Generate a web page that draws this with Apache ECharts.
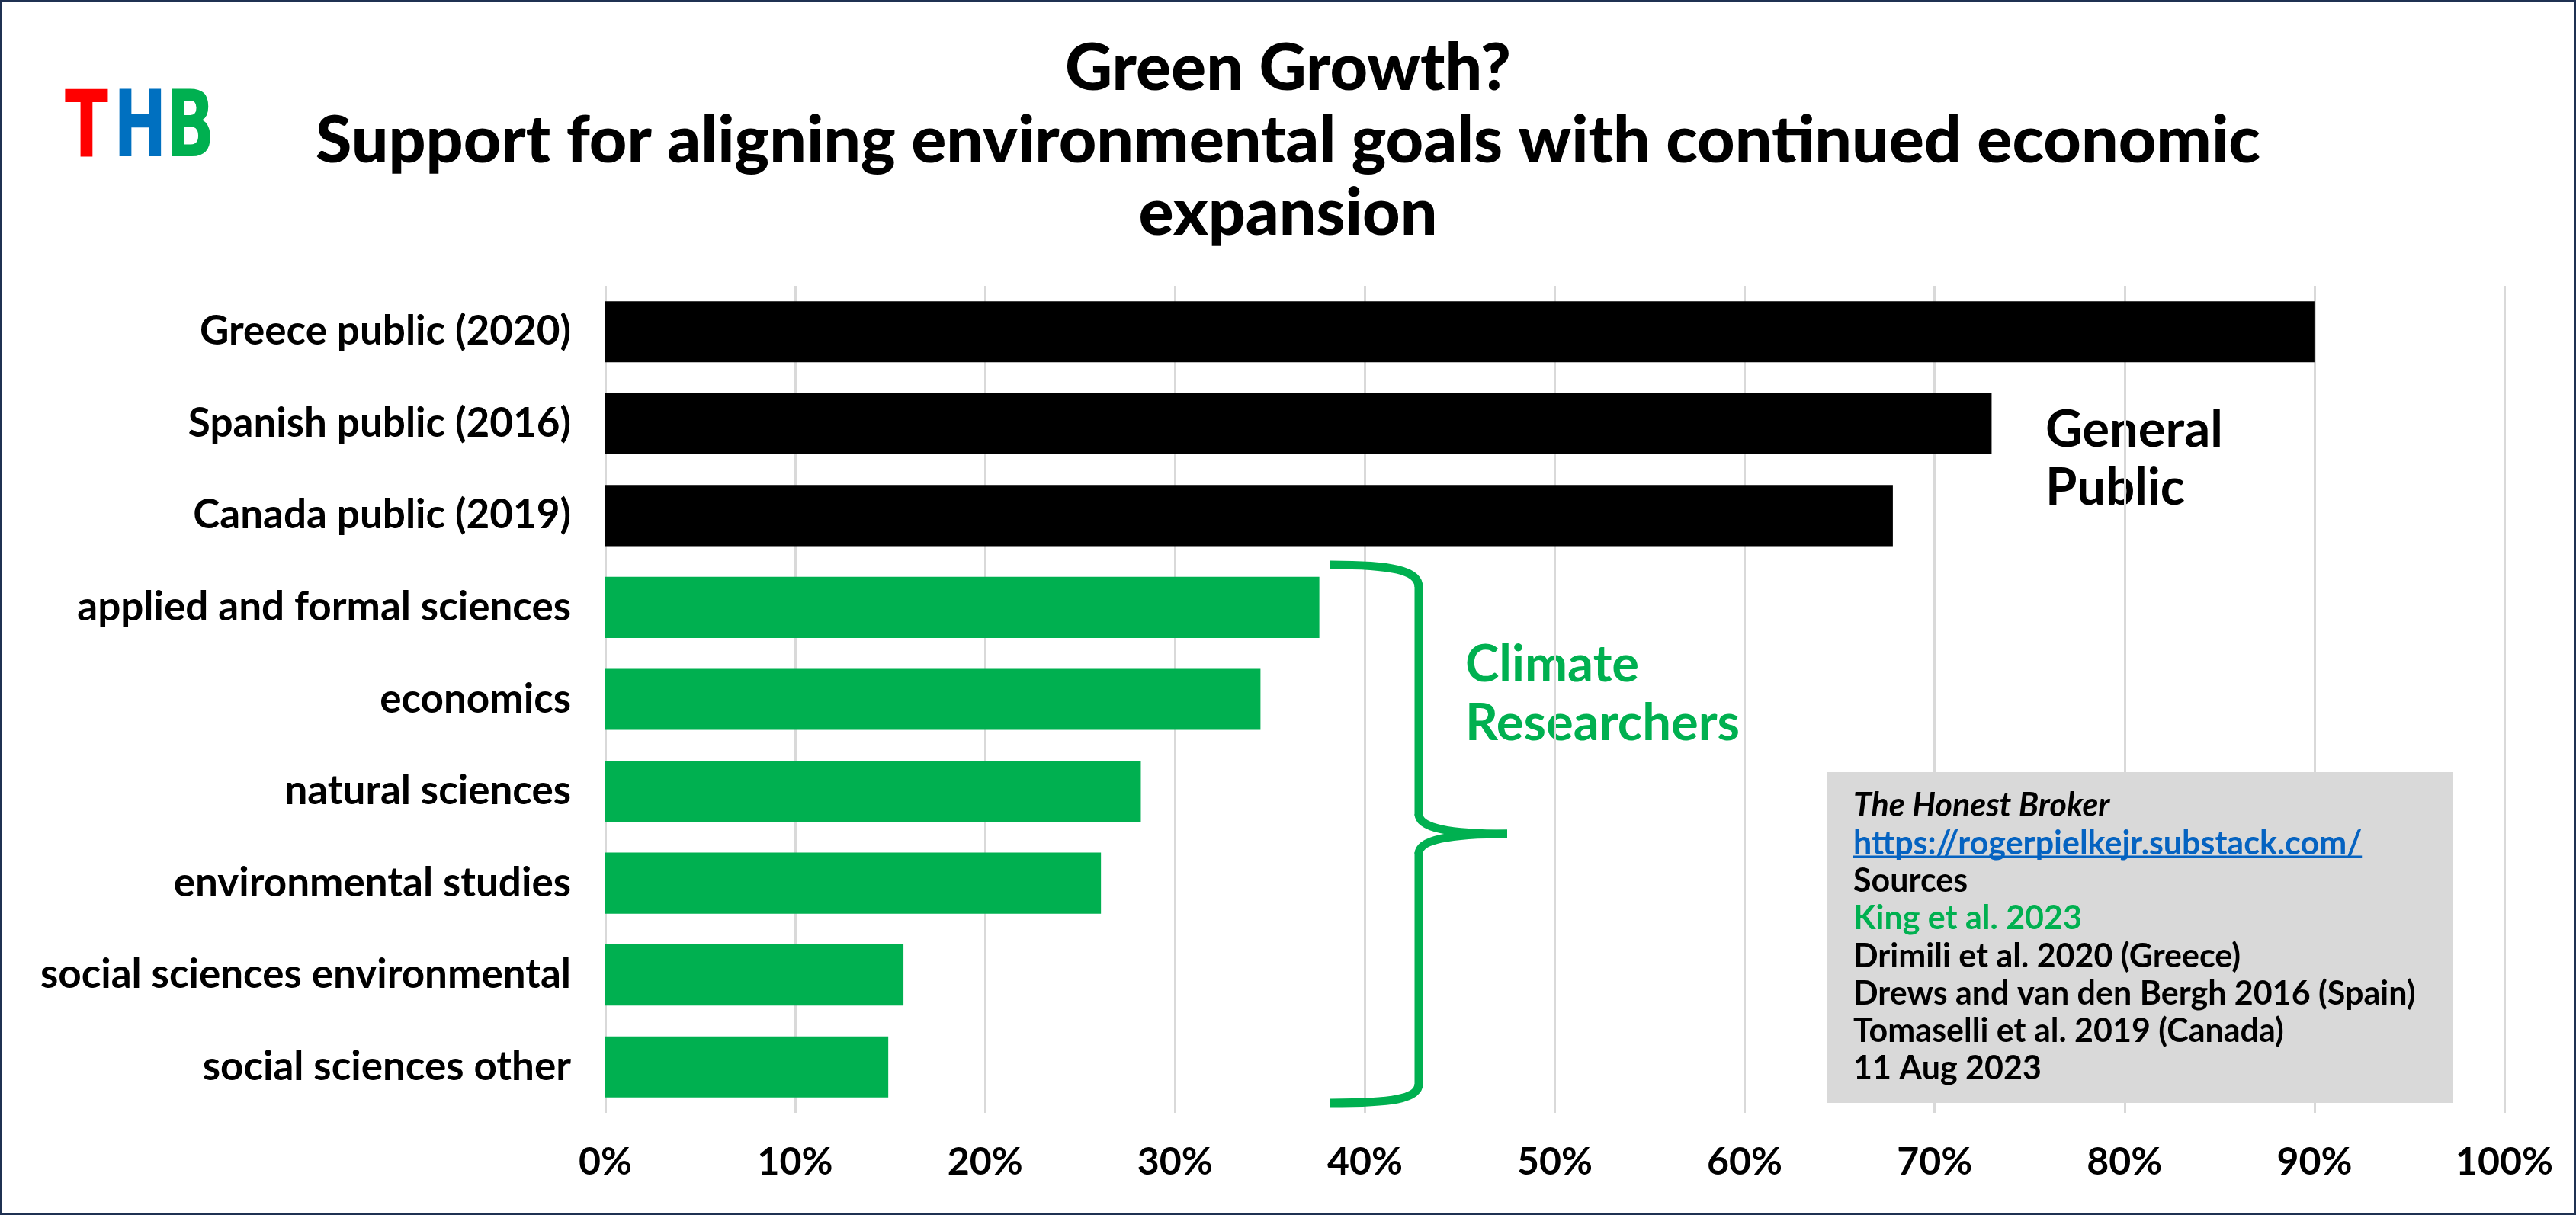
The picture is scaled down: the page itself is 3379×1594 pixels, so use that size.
<!DOCTYPE html>
<html>
<head>
<meta charset="utf-8">
<title>Green Growth?</title>
<script src="https://cdn.jsdelivr.net/npm/echarts@6/dist/echarts.min.js"></script>
<style>
  html, body { margin: 0; padding: 0; background: #fff; }
  #chart { width: 3379px; height: 1594px; }
</style>
</head>
<body>
<div id="chart"></div>
<script>
// data (share in %)
const categories = [
  'Greece public (2020)',
  'Spanish public (2016)',
  'Canada public (2019)',
  'applied and formal sciences',
  'economics',
  'natural sciences',
  'environmental studies',
  'social sciences environmental',
  'social sciences other'
];
const values = [90, 73, 67.8, 37.6, 34.5, 28.2, 26.1, 15.7, 14.9];
const groups = ['public', 'public', 'public', 'research', 'research', 'research', 'research', 'research', 'research'];
const xTicks = [0, 10, 20, 30, 40, 50, 60, 70, 80, 90, 100];

const titleLines = [
  'Green Growth?',
  'Support for aligning environmental goals with continued economic',
  'expansion'
];
const sourceLines = [
  'The Honest Broker',
  'https://rogerpielkejr.substack.com/',
  'Sources',
  'King et al. 2023',
  'Drimili et al. 2020 (Greece)',
  'Drews and van den Bergh 2016 (Spain)',
  'Tomaselli et al. 2019 (Canada)',
  '11 Aug 2023'
];

const GREEN = '#00B050';
const FONT = 'Lato, "Open Sans", sans-serif';
const LOGO_FONT = 'bold 122px "Liberation Sans Narrow", "DejaVu Sans Condensed", sans-serif';
const SOURCE_FONT = 'bold 43px ' + FONT;
const groupColor = { public: '#000000', research: GREEN };

const chart = echarts.init(document.getElementById('chart'));

// width of a string in a given canvas font (for the link underline)
function textWidth(str, font){
  const ctx = document.createElement('canvas').getContext('2d');
  ctx.font = font;
  return ctx.measureText(str).width;
}

// one text element per line of the sources box
function sourceText(){
  const fills = ['#000', '#0563C1', '#000', GREEN, '#000', '#000', '#000', '#000'];
  return sourceLines.map((t, i) => ({
    type: 'text',
    z: 11,
    x: 2431,
    y: 1036 + i * 49.3,
    style: {
      text: t,
      fill: fills[i],
      font: (i === 0 ? 'italic ' : '') + SOURCE_FONT
    }
  }));
}

// curly brace built from curves and straight pieces
function brace(){
  const st = { fill: 'none', stroke: GREEN, lineWidth: 11 };
  const curve = (a) => ({ type: 'bezierCurve', z: 10, silent: true, style: st,
    shape: { x1: a[0], y1: a[1], cpx1: a[2], cpy1: a[3], cpx2: a[4], cpy2: a[5], x2: a[6], y2: a[7] } });
  const line = (a) => ({ type: 'line', z: 10, silent: true, style: st,
    shape: { x1: a[0], y1: a[1], x2: a[2], y2: a[3] } });
  return [
    curve([1745, 741, 1825, 741, 1861, 748, 1861, 770]),
    line([1861, 768, 1861, 1070]),
    curve([1861, 1068, 1861, 1086, 1900, 1094, 1977, 1094]),
    curve([1977, 1094, 1900, 1094, 1861, 1102, 1861, 1120]),
    line([1861, 1118, 1861, 1424]),
    curve([1861, 1422, 1861, 1442, 1825, 1447, 1745, 1447])
  ];
}

const linkWidth = textWidth(sourceLines[1], SOURCE_FONT);

const option = {
  backgroundColor: '#fff',
  animation: false,
  title: {
    text: titleLines.join('\n'),
    left: 'center',
    top: 38,
    textStyle: {
      fontFamily: FONT,
      fontWeight: 900,
      fontSize: 86,
      lineHeight: 95,
      color: '#000',
      align: 'center'
    }
  },
  grid: { left: 794, right: 94, top: 375, bottom: 134 },
  xAxis: {
    type: 'value',
    min: xTicks[0],
    max: xTicks[xTicks.length - 1],
    interval: xTicks[1] - xTicks[0],
    axisLine: { show: false },
    axisTick: { show: false },
    splitLine: { lineStyle: { color: '#D9D9D9', width: 3 } },
    axisLabel: {
      formatter: '{value}%',
      margin: 40,
      color: '#000',
      fontFamily: FONT,
      fontWeight: 'bold',
      fontSize: 50
    }
  },
  yAxis: {
    type: 'category',
    inverse: true,
    data: categories,
    axisLine: { show: false },
    axisTick: { show: false },
    axisLabel: {
      margin: 45,
      color: '#000',
      fontFamily: FONT,
      fontWeight: 'bold',
      fontSize: 53
    }
  },
  series: [{
    type: 'bar',
    barCategoryGap: '33.5%',
    data: values.map((v, i) => ({ value: v, itemStyle: { color: groupColor[groups[i]] } }))
  }],
  graphic: [
    // frame
    { type: 'rect', z: 100, silent: true,
      shape: { x: 0, y: 0, width: 3379, height: 1594 },
      style: { fill: 'none', stroke: '#1F3152', lineWidth: 6 } },
    // THB logo
    { type: 'text', x: 85, y: 112, scaleX: 0.76, style: { text: 'T', fill: '#FF0000', font: LOGO_FONT } },
    { type: 'text', x: 149, y: 112, scaleX: 0.76, style: { text: 'H', fill: '#0070C0', font: LOGO_FONT } },
    { type: 'text', x: 218, y: 112, scaleX: 0.76, style: { text: 'B', fill: GREEN, font: LOGO_FONT } },
    // group annotations
    { type: 'text', x: 2683, y: 526, style: { text: 'General\nPublic', fill: '#000', font: 'bold 67px ' + FONT, lineHeight: 76 } },
    { type: 'text', x: 1922, y: 834, style: { text: 'Climate\nResearchers', fill: GREEN, font: 'bold 67px ' + FONT, lineHeight: 77 } },
    // sources box
    { type: 'rect', z: 10, shape: { x: 2396, y: 1013, width: 822, height: 434 }, style: { fill: '#D9D9D9' } },
    { type: 'line', z: 11, shape: { x1: 2431, y1: 1124, x2: 2431 + linkWidth, y2: 1124 }, style: { stroke: '#0563C1', lineWidth: 3 } }
  ].concat(brace(), sourceText())
};

chart.setOption(option);
</script>
</body>
</html>
